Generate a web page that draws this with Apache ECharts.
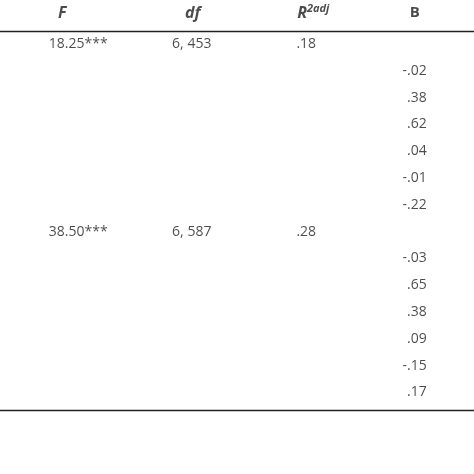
<!DOCTYPE html><html><head><meta charset="utf-8">
<script src="https://cdn.jsdelivr.net/npm/echarts@6/dist/echarts.min.js"></script>
<style>html,body{margin:0;padding:0;background:#fff}#c{width:474px;height:474px}</style></head><body><div id="c"></div>
<script>
const columns = ['F', 'df', 'R2adj', 'B'];
const fValues = ['18.25***', '', '', '', '', '', '', '38.50***', '', '', '', '', '', ''];
const dfValues = ['6, 453', '', '', '', '', '', '', '6, 587', '', '', '', '', '', ''];
const rValues = ['.18', '', '', '', '', '', '', '.28', '', '', '', '', '', ''];
const bValues = ['', '-.02', '.38', '.62', '.04', '-.01', '-.22', '', '-.03', '.65', '.38', '.09', '-.15', '.17'];

const font = '"Open Sans", sans-serif';
const txt = '#1e1e1e';
const colArrays = [fValues, dfValues, rValues, bValues];
const colLabel = [
  {align: 'center', offset: [19, 0]},
  {align: 'center', offset: [14, 0]},
  {align: 'center', offset: [10, 0]},
  {align: 'right', offset: [12, 0]}
];
const headerOffsets = [[3, 0], [15, 0], [17, 0], [0, 0]];
const HEADER_ROW = -1.15;

const series = colArrays.map((arr, ci) => ({
  type: 'scatter', symbolSize: 0, silent: true,
  data: arr.map((v, r) => [columns[ci], r, v]).filter(d => d[2] !== ''),
  label: {show: true, position: 'inside', formatter: p => p.data[2], color: txt,
    fontFamily: font, fontSize: 14, align: colLabel[ci].align, offset: colLabel[ci].offset}
}));
series.push({
  type: 'scatter', symbolSize: 0, silent: true,
  data: columns.map((c, i) => ({value: [c, HEADER_ROW], label: {offset: headerOffsets[i]}})),
  label: {show: true, position: 'inside', color: txt, fontFamily: font, fontSize: 16,
    formatter: p => p.value[0] === 'R2adj' ? '{b|R}{s|2adj}' : (p.value[0] === 'B' ? '{n|B}' : '{b|' + p.value[0] + '}'),
    rich: {
      b: {fontStyle: 'italic', fontWeight: 'bold', fontSize: 16, color: txt, fontFamily: font},
      n: {fontWeight: 'bold', fontSize: 15, color: txt, fontFamily: font},
      s: {fontStyle: 'italic', fontWeight: 'bold', fontSize: 11, color: txt, fontFamily: font, padding: [0, 0, 9, 0]}
    }
  },
  markLine: {symbol: 'none', silent: true, label: {show: false},
    lineStyle: {color: '#222', width: 1.3, type: 'solid'},
    data: [{yAxis: -0.485}, {yAxis: 13.66}]}
});

const chart = echarts.init(document.getElementById('c'));
chart.setOption({
  animation: false,
  grid: {left: 0, right: 0, top: 0, bottom: 0},
  xAxis: {type: 'category', data: columns, show: false},
  yAxis: {type: 'value', inverse: true, min: -1.642, max: 16.04, show: false},
  series
});
</script></body></html>
